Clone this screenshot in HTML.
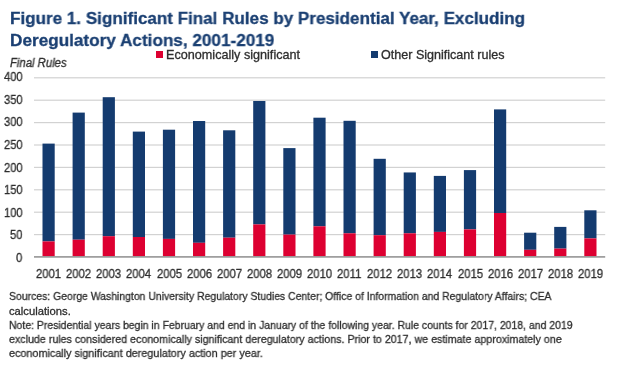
<!DOCTYPE html>
<html><head><meta charset="utf-8">
<style>
html,body{margin:0;padding:0;background:#fff;}
body{width:620px;height:365px;position:relative;overflow:hidden;font-family:"Liberation Sans",sans-serif;}
.t{position:absolute;white-space:nowrap;line-height:20px;transform-origin:0 0;-webkit-text-stroke:0.3px currentColor;will-change:transform;}
.sq{position:absolute;}
svg{position:absolute;left:0;top:0;}
</style></head><body>
<svg width="620" height="365" viewBox="0 0 620 365">
<rect x="34" y="234.00" width="571.20" height="1.2" fill="#d2d2d2"/><rect x="34" y="211.60" width="571.20" height="1.2" fill="#d2d2d2"/><rect x="34" y="189.20" width="571.20" height="1.2" fill="#d2d2d2"/><rect x="34" y="166.80" width="571.20" height="1.2" fill="#d2d2d2"/><rect x="34" y="144.40" width="571.20" height="1.2" fill="#d2d2d2"/><rect x="34" y="122.00" width="571.20" height="1.2" fill="#d2d2d2"/><rect x="34" y="99.60" width="571.20" height="1.2" fill="#d2d2d2"/><rect x="34" y="77.20" width="571.20" height="1.2" fill="#d2d2d2"/>
<rect x="42.50" y="143.60" width="12.2" height="97.80" fill="#143b6f"/><rect x="42.50" y="241.40" width="12.2" height="15.00" fill="#dd0031"/><rect x="72.60" y="112.60" width="12.2" height="127.10" fill="#143b6f"/><rect x="72.60" y="239.70" width="12.2" height="16.70" fill="#dd0031"/><rect x="102.70" y="97.20" width="12.2" height="139.00" fill="#143b6f"/><rect x="102.70" y="236.20" width="12.2" height="20.20" fill="#dd0031"/><rect x="132.80" y="131.60" width="12.2" height="105.40" fill="#143b6f"/><rect x="132.80" y="237.00" width="12.2" height="19.40" fill="#dd0031"/><rect x="162.90" y="129.70" width="12.2" height="109.20" fill="#143b6f"/><rect x="162.90" y="238.90" width="12.2" height="17.50" fill="#dd0031"/><rect x="193.00" y="121.00" width="12.2" height="121.80" fill="#143b6f"/><rect x="193.00" y="242.80" width="12.2" height="13.60" fill="#dd0031"/><rect x="223.10" y="130.30" width="12.2" height="107.40" fill="#143b6f"/><rect x="223.10" y="237.70" width="12.2" height="18.70" fill="#dd0031"/><rect x="253.20" y="101.00" width="12.2" height="123.40" fill="#143b6f"/><rect x="253.20" y="224.40" width="12.2" height="32.00" fill="#dd0031"/><rect x="283.30" y="148.10" width="12.2" height="86.50" fill="#143b6f"/><rect x="283.30" y="234.60" width="12.2" height="21.80" fill="#dd0031"/><rect x="313.40" y="117.70" width="12.2" height="108.60" fill="#143b6f"/><rect x="313.40" y="226.30" width="12.2" height="30.10" fill="#dd0031"/><rect x="343.50" y="120.80" width="12.2" height="112.50" fill="#143b6f"/><rect x="343.50" y="233.30" width="12.2" height="23.10" fill="#dd0031"/><rect x="373.60" y="158.80" width="12.2" height="76.40" fill="#143b6f"/><rect x="373.60" y="235.20" width="12.2" height="21.20" fill="#dd0031"/><rect x="403.70" y="172.45" width="12.2" height="60.85" fill="#143b6f"/><rect x="403.70" y="233.30" width="12.2" height="23.10" fill="#dd0031"/><rect x="433.80" y="175.90" width="12.2" height="56.00" fill="#143b6f"/><rect x="433.80" y="231.90" width="12.2" height="24.50" fill="#dd0031"/><rect x="463.90" y="170.10" width="12.2" height="59.30" fill="#143b6f"/><rect x="463.90" y="229.40" width="12.2" height="27.00" fill="#dd0031"/><rect x="494.00" y="109.40" width="12.2" height="103.60" fill="#143b6f"/><rect x="494.00" y="213.00" width="12.2" height="43.40" fill="#dd0031"/><rect x="524.10" y="232.70" width="12.2" height="17.10" fill="#143b6f"/><rect x="524.10" y="249.80" width="12.2" height="6.60" fill="#dd0031"/><rect x="554.20" y="226.90" width="12.2" height="21.70" fill="#143b6f"/><rect x="554.20" y="248.60" width="12.2" height="7.80" fill="#dd0031"/><rect x="584.30" y="210.30" width="12.2" height="28.10" fill="#143b6f"/><rect x="584.30" y="238.40" width="12.2" height="18.00" fill="#dd0031"/>
<rect x="34" y="256.1" width="571.20" height="1.6" fill="#959595"/>
</svg>
<div class="sq" style="left:155.8px;top:50.6px;width:7.6px;height:7.8px;background:#dd0031"></div>
<div class="sq" style="left:370.6px;top:50.6px;width:7.5px;height:7.7px;background:#143b6f"></div>
<div class="t" id="t1" style="left:9.52px;top:7.60px;font-weight:bold;font-style:normal;font-size:17.2px;color:#1a3f72;transform:scaleX(0.9918)">Figure 1. Significant Final Rules by Presidential Year, Excluding</div><div class="t" id="t2" style="left:9.52px;top:30.30px;font-weight:bold;font-style:normal;font-size:17.2px;color:#1a3f72;transform:scaleX(0.9980)">Deregulatory Actions, 2001-2019</div><div class="t" id="l1" style="left:166.49px;top:44.60px;font-weight:normal;font-style:normal;font-size:12.2px;color:#2e2e2e;transform:scaleX(1.0361)">Economically significant</div><div class="t" id="l2" style="left:380.66px;top:44.60px;font-weight:normal;font-style:normal;font-size:12.2px;color:#2e2e2e;transform:scaleX(1.0301)">Other Significant rules</div><div class="t" id="fr" style="left:9.52px;top:52.70px;font-weight:normal;font-style:italic;font-size:12.0px;color:#2e2e2e;transform:scaleX(0.9436)">Final Rules</div><div class="t" id="f1" style="left:9.26px;top:286.40px;font-weight:normal;font-style:normal;font-size:11.2px;color:#2e2e2e;transform:scaleX(0.9324)">Sources: George Washington University Regulatory Studies Center; Office of Information and Regulatory Affairs; CEA</div><div class="t" id="f2" style="left:9.42px;top:300.60px;font-weight:normal;font-style:normal;font-size:11.2px;color:#2e2e2e;transform:scaleX(1.0041)">calculations.</div><div class="t" id="f3" style="left:9.20px;top:314.90px;font-weight:normal;font-style:normal;font-size:11.2px;color:#2e2e2e;transform:scaleX(0.9351)">Note: Presidential years begin in February and end in January of the following year. Rule counts for 2017, 2018, and 2019</div><div class="t" id="f4" style="left:9.44px;top:329.10px;font-weight:normal;font-style:normal;font-size:11.2px;color:#2e2e2e;transform:scaleX(0.9547)">exclude rules considered economically significant deregulatory actions. Prior to 2017, we estimate approximately one</div><div class="t" id="f5" style="left:9.43px;top:343.40px;font-weight:normal;font-style:normal;font-size:11.2px;color:#2e2e2e;transform:scaleX(0.9671)">economically significant deregulatory action per year.</div><div class="t" id="y0" style="left:15.78px;top:247.60px;font-weight:normal;font-style:normal;font-size:12.0px;color:#2e2e2e;transform:scaleX(0.9300)">0</div><div class="t" id="y1" style="left:9.56px;top:225.08px;font-weight:normal;font-style:normal;font-size:12.0px;color:#2e2e2e;transform:scaleX(0.9300)">50</div><div class="t" id="y2" style="left:3.57px;top:202.56px;font-weight:normal;font-style:normal;font-size:12.0px;color:#2e2e2e;transform:scaleX(0.9300)">100</div><div class="t" id="y3" style="left:3.57px;top:180.04px;font-weight:normal;font-style:normal;font-size:12.0px;color:#2e2e2e;transform:scaleX(0.9300)">150</div><div class="t" id="y4" style="left:3.57px;top:157.52px;font-weight:normal;font-style:normal;font-size:12.0px;color:#2e2e2e;transform:scaleX(0.9300)">200</div><div class="t" id="y5" style="left:3.57px;top:135.00px;font-weight:normal;font-style:normal;font-size:12.0px;color:#2e2e2e;transform:scaleX(0.9300)">250</div><div class="t" id="y6" style="left:3.57px;top:112.48px;font-weight:normal;font-style:normal;font-size:12.0px;color:#2e2e2e;transform:scaleX(0.9300)">300</div><div class="t" id="y7" style="left:3.57px;top:89.96px;font-weight:normal;font-style:normal;font-size:12.0px;color:#2e2e2e;transform:scaleX(0.9300)">350</div><div class="t" id="y8" style="left:3.57px;top:67.44px;font-weight:normal;font-style:normal;font-size:12.0px;color:#2e2e2e;transform:scaleX(0.9300)">400</div><div class="t" id="x0" style="left:36.13px;top:263.50px;font-weight:normal;font-style:normal;font-size:11.9px;color:#2e2e2e;transform:scaleX(0.9500)">2001</div><div class="t" id="x1" style="left:66.24px;top:263.50px;font-weight:normal;font-style:normal;font-size:11.9px;color:#2e2e2e;transform:scaleX(0.9500)">2002</div><div class="t" id="x2" style="left:96.36px;top:263.50px;font-weight:normal;font-style:normal;font-size:11.9px;color:#2e2e2e;transform:scaleX(0.9500)">2003</div><div class="t" id="x3" style="left:126.25px;top:263.50px;font-weight:normal;font-style:normal;font-size:11.9px;color:#2e2e2e;transform:scaleX(0.9500)">2004</div><div class="t" id="x4" style="left:156.56px;top:263.50px;font-weight:normal;font-style:normal;font-size:11.9px;color:#2e2e2e;transform:scaleX(0.9500)">2005</div><div class="t" id="x5" style="left:186.66px;top:263.50px;font-weight:normal;font-style:normal;font-size:11.9px;color:#2e2e2e;transform:scaleX(0.9500)">2006</div><div class="t" id="x6" style="left:216.75px;top:263.50px;font-weight:normal;font-style:normal;font-size:11.9px;color:#2e2e2e;transform:scaleX(0.9500)">2007</div><div class="t" id="x7" style="left:246.86px;top:263.50px;font-weight:normal;font-style:normal;font-size:11.9px;color:#2e2e2e;transform:scaleX(0.9500)">2008</div><div class="t" id="x8" style="left:276.97px;top:263.50px;font-weight:normal;font-style:normal;font-size:11.9px;color:#2e2e2e;transform:scaleX(0.9500)">2009</div><div class="t" id="x9" style="left:306.91px;top:263.50px;font-weight:normal;font-style:normal;font-size:11.9px;color:#2e2e2e;transform:scaleX(0.9500)">2010</div><div class="t" id="x10" style="left:337.41px;top:263.50px;font-weight:normal;font-style:normal;font-size:11.9px;color:#2e2e2e;transform:scaleX(0.9500)">2011</div><div class="t" id="x11" style="left:367.24px;top:263.50px;font-weight:normal;font-style:normal;font-size:11.9px;color:#2e2e2e;transform:scaleX(0.9500)">2012</div><div class="t" id="x12" style="left:397.36px;top:263.50px;font-weight:normal;font-style:normal;font-size:11.9px;color:#2e2e2e;transform:scaleX(0.9500)">2013</div><div class="t" id="x13" style="left:427.25px;top:263.50px;font-weight:normal;font-style:normal;font-size:11.9px;color:#2e2e2e;transform:scaleX(0.9500)">2014</div><div class="t" id="x14" style="left:457.56px;top:263.50px;font-weight:normal;font-style:normal;font-size:11.9px;color:#2e2e2e;transform:scaleX(0.9500)">2015</div><div class="t" id="x15" style="left:487.66px;top:263.50px;font-weight:normal;font-style:normal;font-size:11.9px;color:#2e2e2e;transform:scaleX(0.9500)">2016</div><div class="t" id="x16" style="left:517.75px;top:263.50px;font-weight:normal;font-style:normal;font-size:11.9px;color:#2e2e2e;transform:scaleX(0.9500)">2017</div><div class="t" id="x17" style="left:547.86px;top:263.50px;font-weight:normal;font-style:normal;font-size:11.9px;color:#2e2e2e;transform:scaleX(0.9500)">2018</div><div class="t" id="x18" style="left:577.97px;top:263.50px;font-weight:normal;font-style:normal;font-size:11.9px;color:#2e2e2e;transform:scaleX(0.9500)">2019</div>
</body></html>
